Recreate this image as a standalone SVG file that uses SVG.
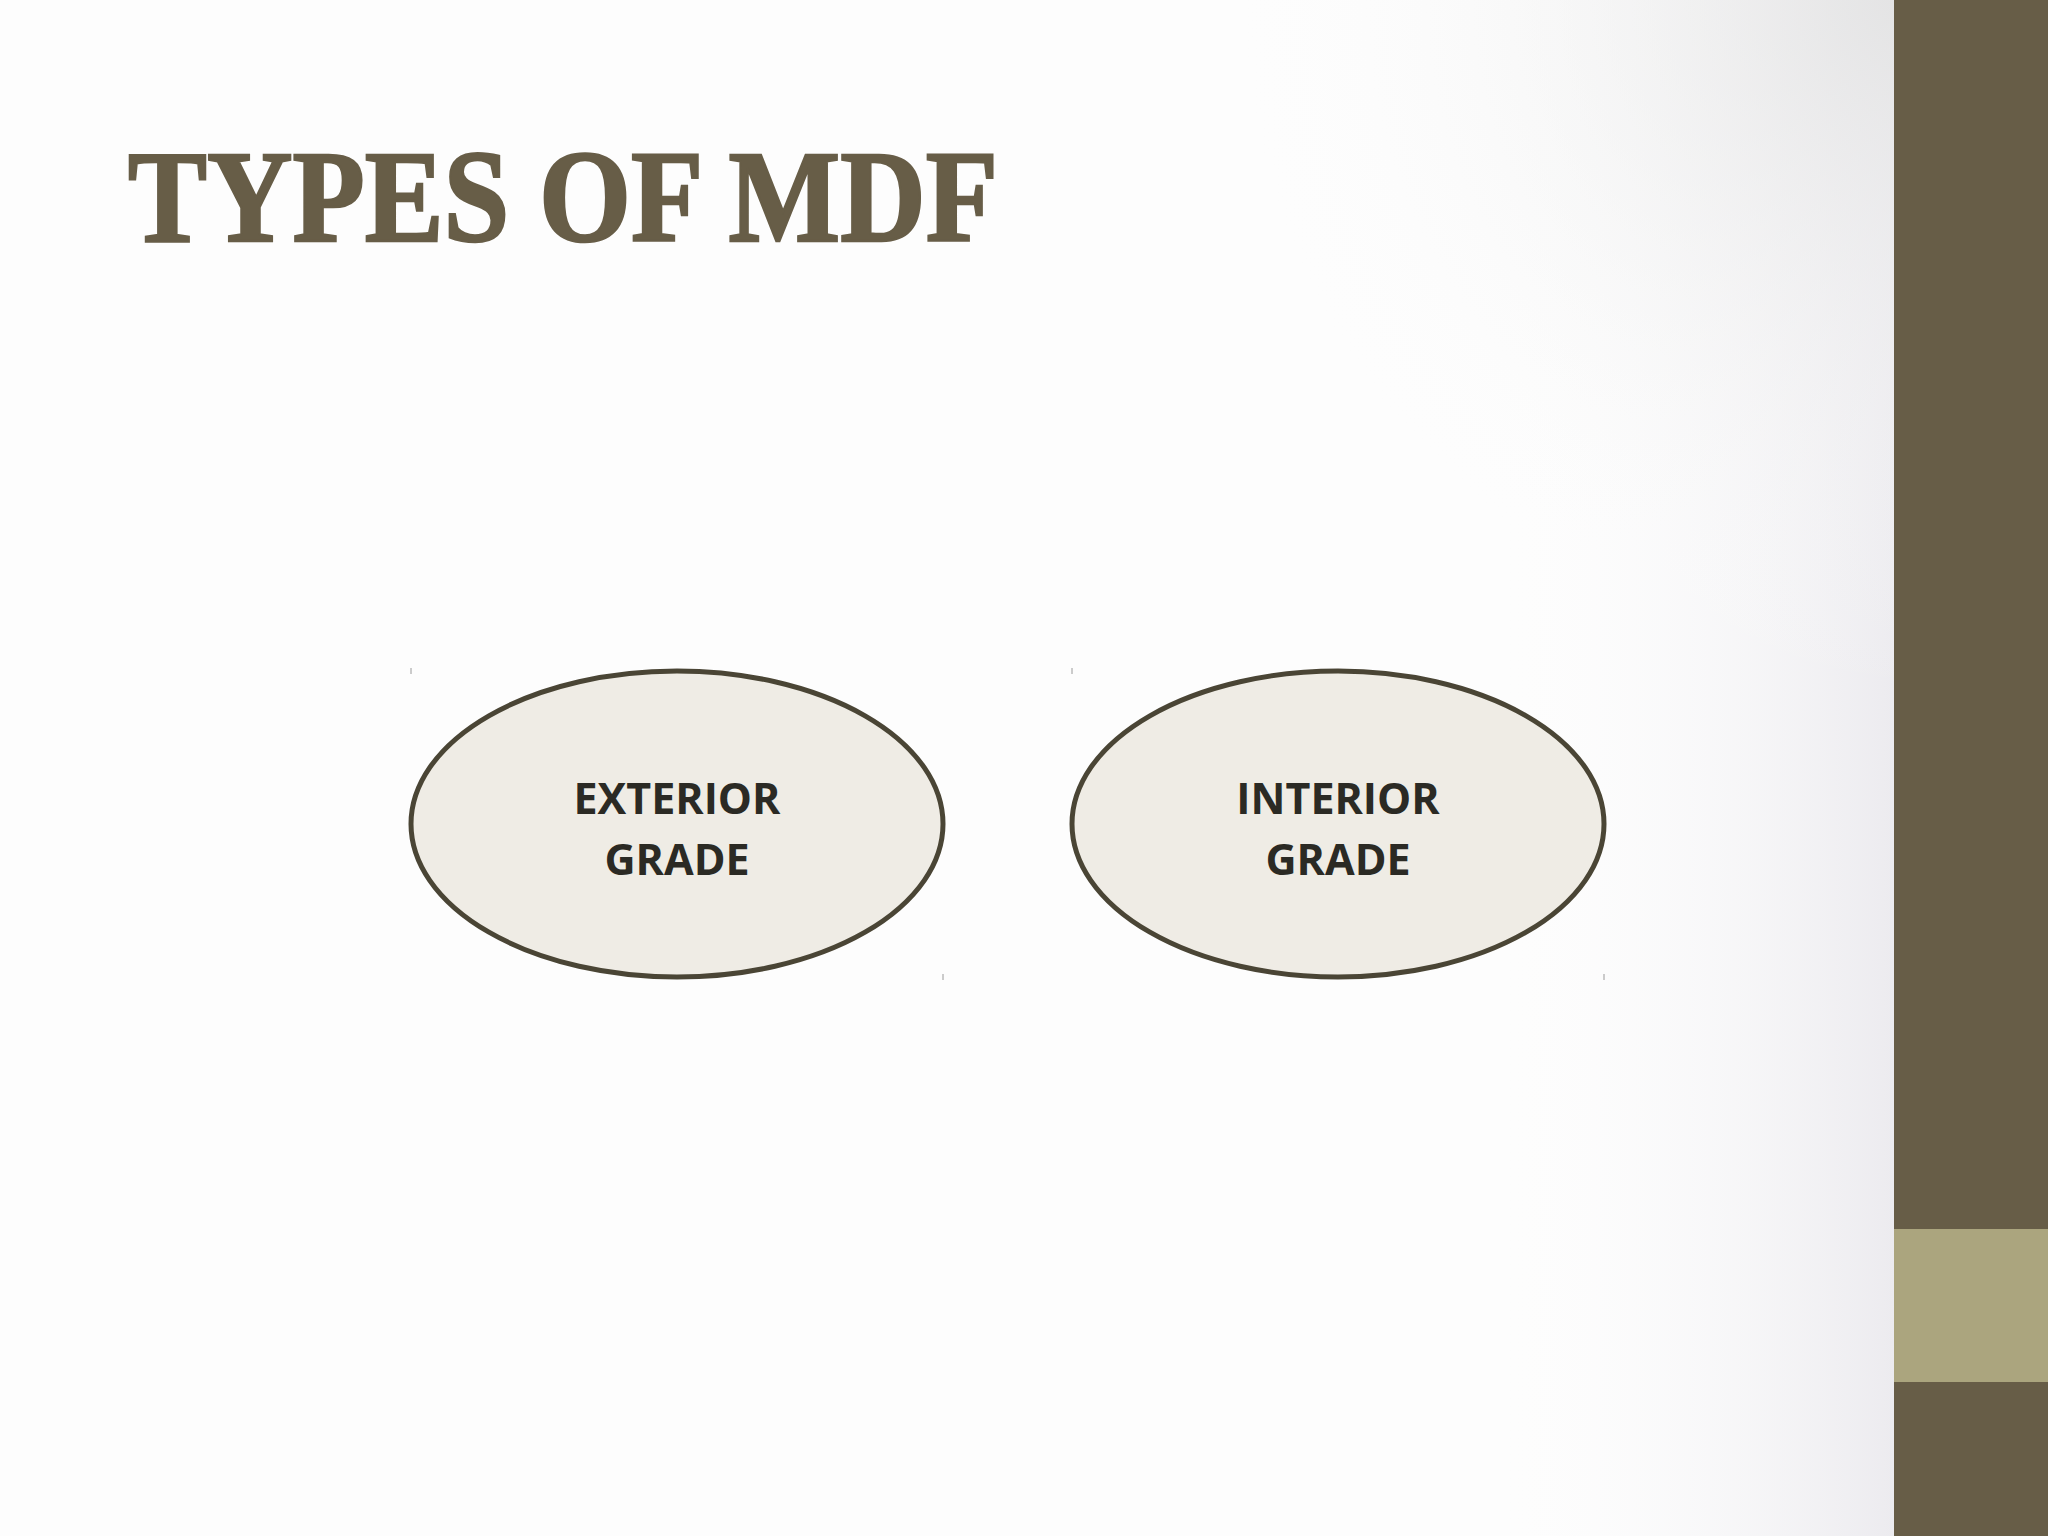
<svg xmlns="http://www.w3.org/2000/svg" width="2048" height="1536" viewBox="0 0 2048 1536">
<defs>
<linearGradient id="bgH" x1="1500" y1="0" x2="1894" y2="0" gradientUnits="userSpaceOnUse">
<stop offset="0" stop-color="#FDFDFD" stop-opacity="0"/>
<stop offset="1" stop-color="#ECEBEF" stop-opacity="1"/>
</linearGradient>
<radialGradient id="bgR" cx="1894" cy="0" r="700" gradientUnits="userSpaceOnUse">
<stop offset="0" stop-color="#E2E2E2" stop-opacity="0.8"/>
<stop offset="1" stop-color="#FFFFFF" stop-opacity="0"/>
</radialGradient>
<style>
.title{font-family:"Liberation Serif","DejaVu Serif",serif;font-weight:bold;font-size:132px;fill:#675D47;stroke:#675D47;stroke-width:2.5}
.node ellipse{fill:#EFECE5;stroke:#4A4535;stroke-width:5}
.label{font-family:"Open Sans","Liberation Sans",sans-serif;font-weight:bold;font-size:43px;fill:#2B2A24;text-anchor:middle}
.tick{stroke:#9A9A9A;stroke-width:1}
</style>
</defs>
<rect x="0" y="0" width="2048" height="1536" fill="#FDFDFD"/>
<rect x="1500" y="0" width="394" height="1536" fill="url(#bgH)"/>
<rect x="1100" y="0" width="794" height="800" fill="url(#bgR)"/>
<rect x="1894" y="0" width="154" height="1536" fill="#675D47"/>
<rect x="1894" y="1229" width="154" height="153" fill="#ABA57E"/>
<text class="title" x="128" y="241" textLength="870" lengthAdjust="spacingAndGlyphs">TYPES OF MDF</text>
<g id="node-exterior" class="node">
<line class="tick" x1="411" y1="668" x2="411" y2="674"/>
<line class="tick" x1="943" y1="974" x2="943" y2="980"/>
<ellipse cx="677" cy="824" rx="266" ry="153"/>
<text class="label" x="677" y="814">EXTERIOR</text>
<text class="label" x="677" y="875">GRADE</text>
</g>
<g id="node-interior" class="node">
<line class="tick" x1="1072" y1="668" x2="1072" y2="674"/>
<line class="tick" x1="1604" y1="974" x2="1604" y2="980"/>
<ellipse cx="1338" cy="824" rx="266" ry="153"/>
<text class="label" x="1338" y="814">INTERIOR</text>
<text class="label" x="1338" y="875">GRADE</text>
</g>
<g id="connectors"></g>
</svg>
